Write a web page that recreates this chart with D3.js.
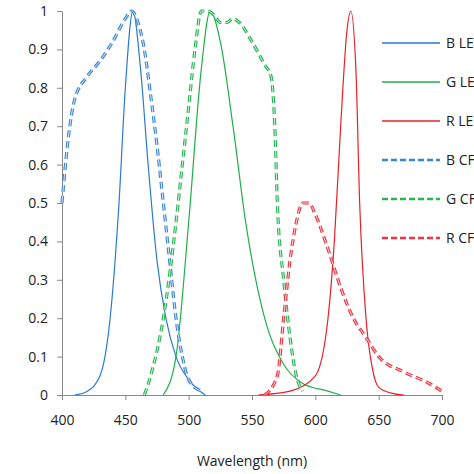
<!DOCTYPE html>
<html><head><meta charset="utf-8">
<script src="https://cdn.jsdelivr.net/npm/d3@7"></script>
<style>body{margin:0;background:#fff;overflow:hidden}text{font-family:"Open Sans",sans-serif}</style>
</head><body><svg id="c" width="474" height="474"></svg>
<script>
const bLed = [[410,0],[420,0.01],[430,0.05],[438,0.2],[445,0.5],[450,0.8],[456,1],[462,0.85],[468,0.6],[475,0.35],[482,0.2],[490,0.1],[500,0.04],[513,0]];
const gLed = [[480,0],[490,0.1],[500,0.45],[510,0.85],[517,1],[525,0.92],[535,0.7],[545,0.45],[560,0.2],[575,0.08],[590,0.03],[610,0.01],[620,0]];
const rLed = [[555,0],[580,0.01],[600,0.05],[610,0.2],[615,0.4],[620,0.7],[625,0.95],[628,1],[632,0.85],[635,0.5],[640,0.2],[645,0.07],[650,0.02],[660,0.005],[670,0]];
const bCf = [[400,0.5],[405,0.67],[410,0.77],[420,0.83],[430,0.87],[440,0.92],[450,0.98],[455,1],[460,0.97],[465,0.9],[470,0.78],[475,0.65],[480,0.5],[485,0.35],[490,0.2],[495,0.1],[500,0.04],[510,0.01]];
const gCf = [[465,0],[470,0.05],[480,0.2],[490,0.45],[495,0.6],[500,0.75],[505,0.9],[510,1],[515,1],[520,0.99],[525,0.97],[530,0.97],[535,0.98],[540,0.97],[550,0.92],[560,0.86],[565,0.83],[568,0.7],[570,0.5],[575,0.3],[580,0.15],[585,0.05],[590,0.01]];
const rCf = [[560,0],[570,0.05],[575,0.2],[580,0.35],[585,0.45],[590,0.5],[595,0.5],[600,0.47],[610,0.38],[620,0.28],[630,0.2],[640,0.15],[650,0.1],[670,0.06],[690,0.03],[700,0.01]];
const series = [
  {name:"B LED", data:bLed, color:"#2a7bd0", dash:false},
  {name:"G LED", data:gLed, color:"#1fb04a", dash:false},
  {name:"R LED", data:rLed, color:"#e8202a", dash:false},
  {name:"B CF", data:bCf, color:"#3a86d6", dash:true},
  {name:"G CF", data:gCf, color:"#27b556", dash:true},
  {name:"R CF", data:rCf, color:"#ef3340", dash:true}
];
const xTicks = [400,450,500,550,600,650,700];
const yTicks = d3.range(0, 1.01, 0.1);

const svg = d3.select("#c");
const x = d3.scaleLinear().domain([400,700]).range([62,442]);
const y = d3.scaleLinear().domain([0,1]).range([395,11]);

const xa = svg.append("g").attr("transform","translate(0,395)")
  .call(d3.axisBottom(x).tickValues(xTicks).tickSize(5).tickSizeOuter(0).tickFormat(d3.format("d")));
const ya = svg.append("g").attr("transform","translate(62,0)")
  .call(d3.axisLeft(y).tickValues(yTicks).tickSize(5).tickSizeOuter(0).tickFormat(d => d===0||Math.abs(d-1)<1e-9 ? d3.format("d")(d) : d3.format(".1f")(d)));
[xa, ya].forEach(a => {
  a.selectAll("path,line").attr("stroke","#888");
  a.selectAll("text").attr("fill","#222").style("font-size","14px");
});
xa.selectAll("text").attr("y",20).attr("dy","0.71em");
ya.selectAll("text").attr("x",-14);
svg.append("text").attr("x",252).attr("y",466).attr("text-anchor","middle").style("font-size","14px").attr("fill","#222").text("Wavelength (nm)");

const line = d3.line().x(d => x(d[0])).y(d => y(d[1])).curve(d3.curveMonotoneX);
series.forEach(s => {
  if (s.dash) {
    svg.append("path").datum(s.data).attr("d",line).attr("fill","none").attr("stroke",s.color).attr("stroke-width",3.2).attr("stroke-dasharray","7,4");
    svg.append("path").datum(s.data).attr("d",line).attr("fill","none").attr("stroke","#fff").attr("stroke-width",1).attr("stroke-dasharray","7,4").attr("opacity",0.8);
  } else {
    svg.append("path").datum(s.data).attr("d",line).attr("fill","none").attr("stroke",s.color).attr("stroke-width",1.2);
  }
});

const lg = svg.append("g");
series.forEach((s,i) => {
  const yy = 43 + i*39;
  lg.append("line").attr("x1",382).attr("x2",440).attr("y1",yy).attr("y2",yy).attr("stroke",s.color)
    .attr("stroke-width", s.dash ? 2.5 : 1.5).attr("stroke-dasharray", s.dash ? "6,3" : null);
  lg.append("text").attr("x",446).attr("y",yy+5).style("font-size","14px").attr("fill","#222").text(s.name);
});
</script></body></html>
